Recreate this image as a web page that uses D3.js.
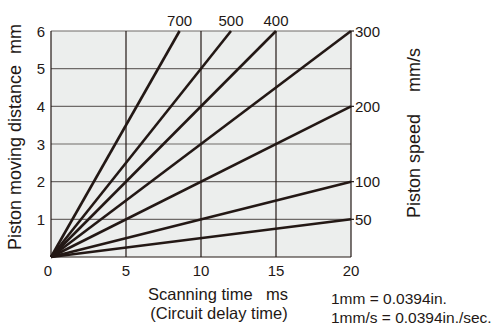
<!DOCTYPE html>
<html>
<head>
<meta charset="utf-8">
<script src="https://cdn.jsdelivr.net/npm/d3@7"></script>
<style>
  body { margin: 0; background: #fff; }
  svg { font-family: "Liberation Sans", Arial, sans-serif; }
  text { fill: #231815; }
</style>
</head>
<body>
<div id="chart"></div>
<script>
// piston speeds, mm/s
var speeds = [50, 100, 200, 300, 400, 500, 700];
var topLabels = [700, 500, 400];      // labelled at top edge
var rightLabels = [300, 200, 100, 50]; // labelled at right edge
var xTicks = [0, 5, 10, 15, 20];
var yTicks = [1, 2, 3, 4, 5, 6];
var yLabels = ["1", "2", "3", "4", "5", "6"];

const W = 496, H = 331;
const plot = {L: 51, T: 31, R: 351, B: 257};

var svg = d3.select("#chart").append("svg")
  .attr("width", W).attr("height", H);

var x = d3.scaleLinear().domain([0, 20]).range([plot.L, plot.R]);
var y = d3.scaleLinear().domain([0, 6]).range([plot.B, plot.T]);

// distance at time t for speed v (mm/s, ms) -> mm
function dist(v, t) { return v * t / 1000; }
function tAtTop(v) { return Math.min(20, 6000 / v); }

svg.append("rect")
  .attr("x", plot.L).attr("y", plot.T)
  .attr("width", plot.R - plot.L).attr("height", plot.B - plot.T)
  .style("fill", "#eceeed");

// horizontal grid (grey)
svg.selectAll(".hgrid").data(yTicks)
  .enter().append("line")
  .attr("class", "hgrid")
  .attr("x1", plot.L).attr("x2", plot.R)
  .attr("y1", function(d) {return y(d);})
  .attr("y2", function(d) {return y(d);})
  .style("stroke", "#6e6a68").style("stroke-width", 1.2);

// vertical grid (black)
svg.selectAll(".vgrid").data([5, 10, 15, 20])
  .enter().append("line")
  .attr("class", "vgrid")
  .attr("y1", plot.T).attr("y2", plot.B)
  .attr("x1", function(d) {return x(d);})
  .attr("x2", function(d) {return x(d);})
  .style("stroke", "#231815").style("stroke-width", 1.2);

// left and bottom frame
svg.append("line")
  .attr("x1", x(0)).attr("x2", x(0)).attr("y1", plot.T).attr("y2", plot.B)
  .style("stroke", "#231815").style("stroke-width", 1.2);
svg.append("line")
  .attr("x1", plot.L).attr("x2", plot.R).attr("y1", y(0)).attr("y2", y(0))
  .style("stroke", "#231815").style("stroke-width", 1.2);

// right ticks for labelled speeds
svg.selectAll(".rtick").data(rightLabels)
  .enter().append("line")
  .attr("class", "rtick")
  .attr("x1", x(20)).attr("x2", x(20) + 3)
  .attr("y1", function(d) {return y(dist(d, 20));})
  .attr("y2", function(d) {return y(dist(d, 20));})
  .style("stroke", "#231815").style("stroke-width", 1.2);

// speed lines
svg.selectAll(".speed").data(speeds)
  .enter().append("line")
  .attr("class", "speed")
  .attr("x1", x(0)).attr("y1", y(0))
  .attr("x2", function(d) {return x(tAtTop(d));})
  .attr("y2", function(d) {return y(dist(d, tAtTop(d)));})
  .style("stroke", "#231815").style("stroke-width", 2.6);

// tick labels
svg.selectAll(".xlab").data(xTicks)
  .enter().append("text")
  .attr("class", "xlab")
  .attr("x", function(d) {return d == 0 ? x(d) - 3 : x(d);})
  .attr("y", plot.B + 19)
  .attr("text-anchor", "middle")
  .style("font-size", "15px")
  .text(function(d) {return d;});

svg.selectAll(".ylab").data(yTicks)
  .enter().append("text")
  .attr("class", "ylab")
  .attr("x", plot.L - 6)
  .attr("y", function(d) {return y(d) + 5.5;})
  .attr("text-anchor", "end")
  .style("font-size", "15px")
  .text(function(d, i) {return yLabels[i];});

svg.selectAll(".tlab").data(topLabels)
  .enter().append("text")
  .attr("class", "tlab")
  .attr("x", function(d) {return x(tAtTop(d));})
  .attr("y", plot.T - 5)
  .attr("text-anchor", "middle")
  .style("font-size", "15px")
  .text(function(d) {return d;});

svg.selectAll(".rlab").data(rightLabels)
  .enter().append("text")
  .attr("class", "rlab")
  .attr("x", x(20) + 4)
  .attr("y", function(d) {return y(dist(d, 20)) + 5.5;})
  .style("font-size", "15px")
  .text(function(d) {return d;});

// axis titles
svg.append("text")
  .attr("transform", "translate(21,250) rotate(-90)")
  .style("font-size", "18px")
  .text("Piston moving distance");
svg.append("text")
  .attr("transform", "translate(21,24) rotate(-90)")
  .attr("text-anchor", "end")
  .style("font-size", "18px")
  .text("mm");

svg.append("text")
  .attr("transform", "translate(420,218) rotate(-90)")
  .style("font-size", "18px")
  .text("Piston speed");
svg.append("text")
  .attr("transform", "translate(420,48) rotate(-90)")
  .attr("text-anchor", "end")
  .style("font-size", "18px")
  .text("mm/s");

svg.append("text")
  .attr("x", 148).attr("y", 300)
  .style("font-size", "16.5px")
  .text("Scanning time");
svg.append("text")
  .attr("x", 288).attr("y", 300)
  .attr("text-anchor", "end")
  .style("font-size", "16.5px")
  .text("ms");

svg.append("text")
  .attr("x", 219).attr("y", 319)
  .attr("text-anchor", "middle")
  .style("font-size", "16.5px")
  .text("(Circuit delay time)");

svg.append("text")
  .attr("x", 331).attr("y", 304)
  .style("font-size", "15.5px")
  .text("1mm = 0.0394in.");
svg.append("text")
  .attr("x", 331).attr("y", 323)
  .style("font-size", "15.5px")
  .text("1mm/s = 0.0394in./sec.");
</script>
</body>
</html>
